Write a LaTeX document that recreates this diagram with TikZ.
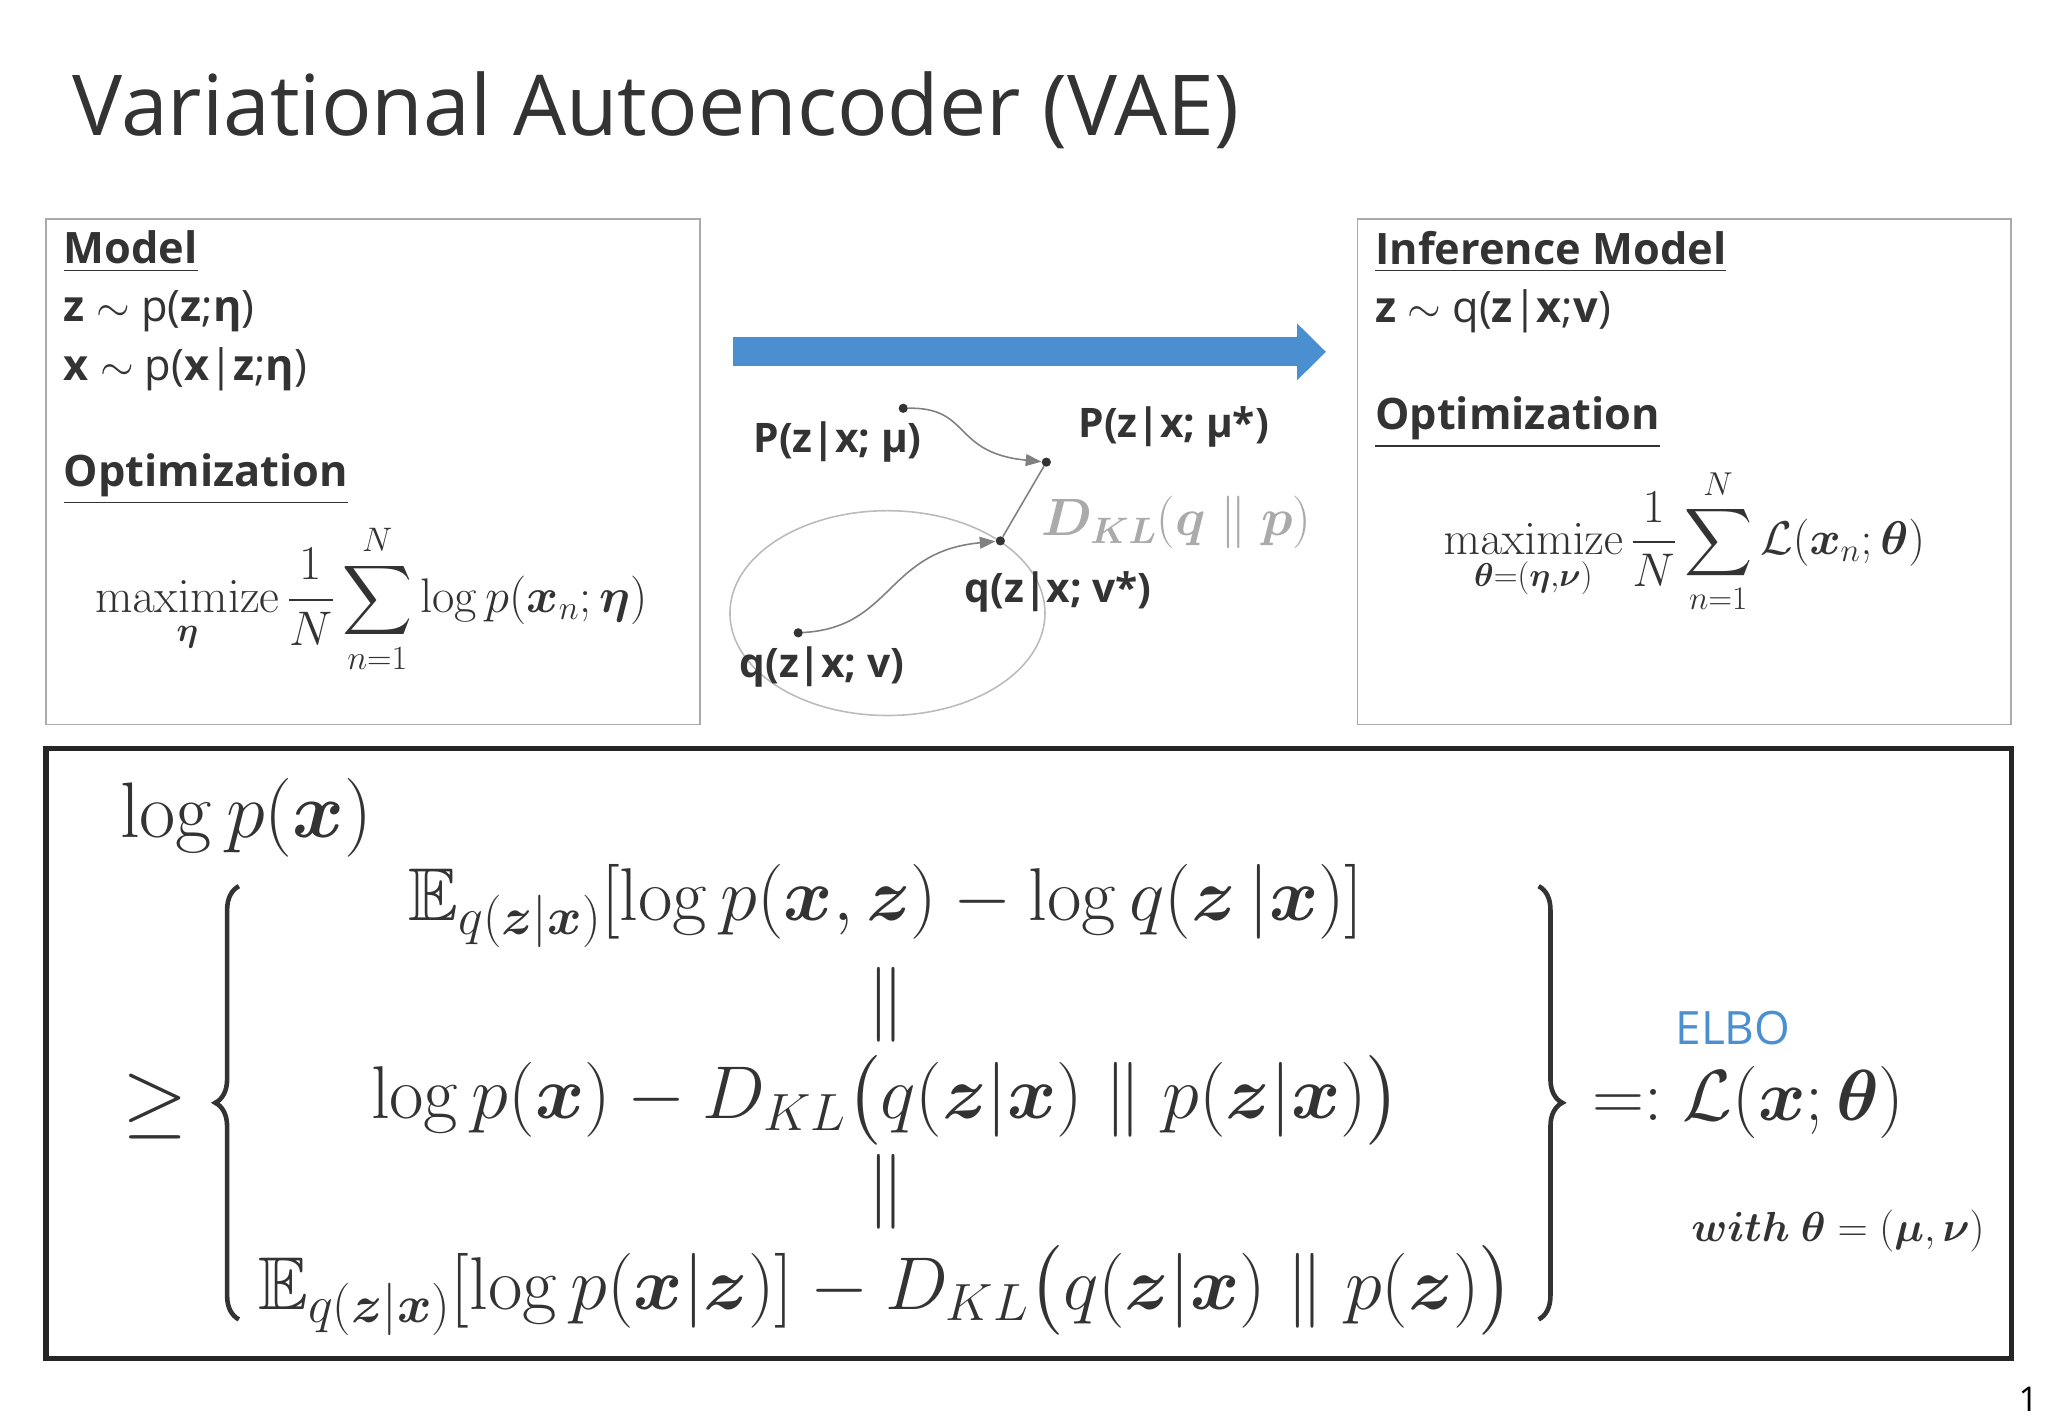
\documentclass[tikz,border=0pt]{standalone}
\usepackage{fix-cm}
\usepackage{amsmath,amssymb,bm}
\usepackage[no-math]{fontspec}
\setmainfont{Open Sans}
\usetikzlibrary{arrows.meta,decorations.pathreplacing}
\definecolor{txt}{HTML}{333333}
\definecolor{vblue}{HTML}{4A8FD0}
\definecolor{lgray}{HTML}{AAAAAA}
\newcommand{\fs}[1]{\fontsize{#1}{#1}\selectfont}
\begin{document}
\begin{tikzpicture}[x=1pt,y=-1pt,
  head/.style={anchor=west,text=txt,font=\fs{33}\bfseries},
  ln/.style={anchor=west,text=txt,font=\fs{33}},
  lbl/.style={text=txt,font=\fs{31}\bfseries},
  dot/.style={circle,fill=txt,inner sep=0pt,minimum size=7pt},
  conn/.style={draw=gray,line width=1.2pt},
  mth/.style={text=txt,font=\fs{57}},
  sbox/.style={draw=lgray,line width=1.2pt}]
\useasboundingbox (0,0) rectangle (1560,1080);
\node[anchor=west,text=txt,font=\fs{64}] (title) at (52,84) {Variational Autoencoder (VAE)};
% left box
\draw[sbox] (35,167) rectangle (533,552);
\node[head] (m) at (45,192) {\underline{Model}};
\node[ln] (m1) at (45,237) {\textbf{z} $\sim$ p(\textbf{z};\textbf{η})};
\node[ln] (m2) at (45,281) {\textbf{x} $\sim$ p(\textbf{x}|\textbf{z};\textbf{η})};
\node[head] (o1) at (45,365) {\underline{Optimization}};
\node[text=txt,font=\fs{37}] (f1) at (283,456) {$\displaystyle\operatorname*{maximize}_{\bm\eta}\frac{1}{N}\sum_{n=1}^{N}\log p(\bm x_n;\bm\eta)$};
% right box
\draw[sbox] (1034,167) rectangle (1532,552);
\node[head] (im) at (1044,192) {\underline{Inference Model}};
\node[ln] (im1) at (1044,237) {\textbf{z} $\sim$ q(\textbf{z}|\textbf{x};\textbf{v})};
\node[head] (o2) at (1044,322) {\underline{Optimization}};
\node[text=txt,font=\fs{36}] (f2) at (1283,412) {$\displaystyle\operatorname*{maximize}_{\bm\theta=(\bm\eta,\bm\nu)}\frac{1}{N}\sum_{n=1}^{N}\mathcal{L}(\bm x_n;\bm\theta)$};
% blue arrow
\coordinate (a1) at (558,268);
\coordinate (a2) at (1010,268);
\draw[vblue,line width=22pt,-{Triangle[length=22pt,width=42pt]}] (a1) -- (a2);
% middle diagram
\draw[lgray!80,line width=1.2pt] (676,467) ellipse [x radius=120,y radius=78];
\node[dot] (p0) at (688,311) {};
\node[dot] (p1) at (797,352) {};
\node[dot] (q1) at (762,412) {};
\node[dot] (q0) at (608,482) {};
\draw[conn,-{Triangle[length=12pt,width=9pt]}] (p0) .. controls (740,310) and (725,345) .. (p1);
\draw[conn] (p1) -- (q1);
\draw[conn,-{Triangle[length=12pt,width=9pt]}] (q0) .. controls (680,478) and (675,420) .. (q1);
\node[lbl] (lp0) at (638,337) {P(z|x; μ)};
\node[lbl] (lp1) at (894,325) {P(z|x; μ*)};
\node[text=lgray,font=\fs{40}] (dkl) at (896,398) {$\bm{D_{KL}}(\bm q\parallel \bm p)$};
\node[lbl] (lq1) at (806,451) {q(z|x; v*)};
\node[lbl] (lq0) at (626,508) {q(z|x; v)};
% bottom box
\draw[black!85,line width=4pt] (35,570) rectangle (1532,1035);
\node[text=txt,font=\fs{60},anchor=west] (lp) at (88,623) {$\log p(\bm x)$};
\node[text=txt,font=\fs{64}] (ge) at (118,843) {$\geq$};
\draw[txt,line width=3.5pt,decorate,decoration={brace,amplitude=18pt}] (182,1005) -- (182,675);
\draw[txt,line width=3.5pt,decorate,decoration={brace,amplitude=18pt}] (1172,675) -- (1172,1005);
\node[mth] (e1) at (675,690) {$\mathbb{E}_{q(\bm z|\bm x)}[\log p(\bm x,\bm z)-\log q(\bm z\,|\bm x)]$};
\node[mth] (eq1) at (675,765) {$\parallel$};
\node[mth] (e2) at (675,838) {$\log p(\bm x)-D_{KL}\big(q(\bm z|\bm x)\parallel p(\bm z|\bm x)\big)$};
\node[mth] (eq2) at (675,908) {$\parallel$};
\node[mth] (e3) at (675,983) {$\mathbb{E}_{q(\bm z|\bm x)}[\log p(\bm x|\bm z)]-D_{KL}\big(q(\bm z|\bm x)\parallel p(\bm z)\big)$};
\node[text=vblue,font=\fs{35}] (elbo) at (1320,783) {ELBO};
\node[text=txt,font=\fs{55}] (L) at (1332,840) {$=:\mathcal{L}(\bm x;\bm\theta)$};
\node[text=txt,font=\fs{32}] (with) at (1400,938) {$\bm{with}\ \bm\theta=(\bm\mu,\bm\nu)$};
\node[text=black,font=\fs{26}] (pg) at (1545,1066) {1};
\end{tikzpicture}
\end{document}
